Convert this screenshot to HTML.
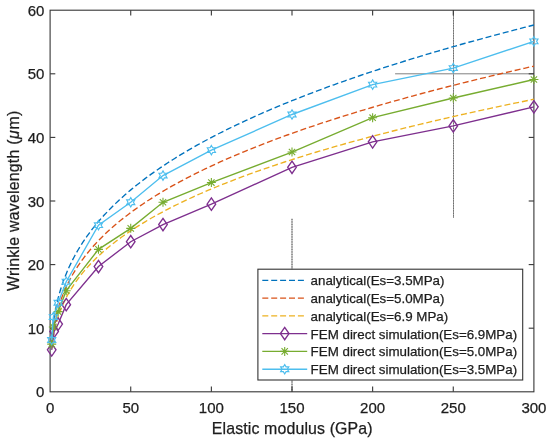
<!DOCTYPE html>
<html><head><meta charset="utf-8"><title>plot</title><style>html,body{margin:0;padding:0;background:#fff}</style></head><body>
<svg width="550" height="442" viewBox="0 0 550 442" style="display:block;font-family:'Liberation Sans',sans-serif">
<rect width="550" height="442" fill="#fff"/>
<style>text{stroke:#1c1c1c;stroke-width:0.25px;paint-order:stroke}</style>
<g fill="none" stroke-width="1">
<line x1="453.5" y1="10.2" x2="453.5" y2="218" stroke="#a4a4a4"/>
<line x1="453.5" y1="10.2" x2="453.5" y2="218" stroke="#6c6c6c" stroke-dasharray="1.3,1.2"/>
<line x1="395.1" y1="73.8" x2="533.9" y2="73.8" stroke="#808080"/>
<line x1="292.0" y1="218.8" x2="292.0" y2="391.8" stroke="#a8a8a8"/>
<line x1="292.0" y1="218.8" x2="292.0" y2="391.8" stroke="#606060" stroke-dasharray="1.3,1.2"/>
</g>
<g stroke="#363636" stroke-width="1.1" fill="none">
<rect x="50.1" y="10.2" width="483.79999999999995" height="381.6"/>
<line x1="130.73" y1="391.8" x2="130.73" y2="386.6"/>
<line x1="130.73" y1="10.2" x2="130.73" y2="15.399999999999999"/>
<line x1="211.37" y1="391.8" x2="211.37" y2="386.6"/>
<line x1="211.37" y1="10.2" x2="211.37" y2="15.399999999999999"/>
<line x1="292.00" y1="391.8" x2="292.00" y2="386.6"/>
<line x1="292.00" y1="10.2" x2="292.00" y2="15.399999999999999"/>
<line x1="372.63" y1="391.8" x2="372.63" y2="386.6"/>
<line x1="372.63" y1="10.2" x2="372.63" y2="15.399999999999999"/>
<line x1="453.27" y1="391.8" x2="453.27" y2="386.6"/>
<line x1="453.27" y1="10.2" x2="453.27" y2="15.399999999999999"/>
<line x1="50.1" y1="328.20" x2="55.300000000000004" y2="328.20"/>
<line x1="533.9" y1="328.20" x2="528.6999999999999" y2="328.20"/>
<line x1="50.1" y1="264.60" x2="55.300000000000004" y2="264.60"/>
<line x1="533.9" y1="264.60" x2="528.6999999999999" y2="264.60"/>
<line x1="50.1" y1="201.00" x2="55.300000000000004" y2="201.00"/>
<line x1="533.9" y1="201.00" x2="528.6999999999999" y2="201.00"/>
<line x1="50.1" y1="137.40" x2="55.300000000000004" y2="137.40"/>
<line x1="533.9" y1="137.40" x2="528.6999999999999" y2="137.40"/>
<line x1="50.1" y1="73.80" x2="55.300000000000004" y2="73.80"/>
<line x1="533.9" y1="73.80" x2="528.6999999999999" y2="73.80"/>
</g>
<g fill="#1c1c1c" font-size="15">
<text x="50.10" y="412.7" text-anchor="middle">0</text>
<text x="130.73" y="412.7" text-anchor="middle">50</text>
<text x="211.37" y="412.7" text-anchor="middle">100</text>
<text x="292.00" y="412.7" text-anchor="middle">150</text>
<text x="372.63" y="412.7" text-anchor="middle">200</text>
<text x="453.27" y="412.7" text-anchor="middle">250</text>
<text x="533.90" y="412.7" text-anchor="middle">300</text>
<text x="44.4" y="397.30" text-anchor="end">0</text>
<text x="44.4" y="333.70" text-anchor="end">10</text>
<text x="44.4" y="270.10" text-anchor="end">20</text>
<text x="44.4" y="206.50" text-anchor="end">30</text>
<text x="44.4" y="142.90" text-anchor="end">40</text>
<text x="44.4" y="79.30" text-anchor="end">50</text>
<text x="44.4" y="15.70" text-anchor="end">60</text>
</g>
<text x="292.2" y="434.1" text-anchor="middle" font-size="15.9" textLength="160.8" lengthAdjust="spacing" fill="#1c1c1c">Elastic modulus (GPa)</text>
<text transform="translate(19.2,290.9) rotate(-90)" font-size="15.9" textLength="180.2" lengthAdjust="spacing" fill="#1c1c1c">Wrinkle wavelength (<tspan font-style="italic" dx="0.3">μ</tspan><tspan dx="0.6">m)</tspan></text>
<path d="M51.71,337.01 L51.72,336.87 L51.76,336.47 L51.82,335.81 L51.91,334.91 L52.01,333.79 L52.15,332.48 L52.30,331.00 L52.48,329.38 L52.69,327.64 L52.92,325.80 L53.17,323.88 L53.45,321.90 L53.75,319.86 L54.08,317.78 L54.42,315.68 L54.80,313.54 L55.20,311.39 L55.62,309.23 L56.06,307.07 L56.53,304.90 L57.03,302.73 L57.55,300.56 L58.09,298.40 L58.66,296.24 L59.25,294.09 L59.86,291.95 L60.50,289.81 L61.16,287.69 L61.85,285.58 L62.56,283.48 L63.30,281.39 L64.06,279.31 L64.84,277.24 L65.65,275.19 L66.48,273.14 L67.34,271.11 L68.22,269.09 L69.12,267.08 L70.05,265.09 L71.00,263.10 L71.98,261.13 L72.98,259.16 L74.00,257.21 L75.05,255.27 L76.12,253.34 L77.22,251.42 L78.34,249.52 L79.49,247.62 L80.66,245.73 L81.85,243.85 L83.07,241.99 L84.31,240.13 L85.57,238.28 L86.86,236.44 L88.18,234.61 L89.52,232.79 L90.88,230.98 L92.26,229.18 L93.68,227.39 L95.11,225.60 L96.57,223.82 L98.05,222.06 L99.56,220.30 L101.09,218.55 L102.64,216.80 L104.22,215.07 L105.83,213.34 L107.45,211.62 L109.11,209.90 L110.78,208.20 L112.48,206.50 L114.20,204.81 L115.95,203.12 L117.72,201.45 L119.52,199.78 L121.34,198.11 L123.18,196.45 L125.05,194.80 L126.95,193.16 L128.86,191.52 L130.80,189.89 L132.77,188.26 L134.76,186.64 L136.77,185.03 L138.81,183.42 L140.87,181.82 L142.95,180.23 L145.06,178.64 L147.20,177.05 L149.36,175.47 L151.54,173.90 L153.74,172.33 L155.97,170.77 L158.23,169.21 L160.51,167.66 L162.81,166.11 L165.14,164.57 L167.49,163.03 L169.86,161.50 L172.26,159.97 L174.68,158.45 L177.13,156.93 L179.60,155.42 L182.10,153.91 L184.62,152.40 L187.16,150.90 L189.73,149.41 L192.32,147.92 L194.93,146.43 L197.57,144.95 L200.24,143.47 L202.93,142.00 L205.64,140.53 L208.38,139.07 L211.14,137.60 L213.92,136.15 L216.73,134.69 L219.56,133.25 L222.42,131.80 L225.30,130.36 L228.21,128.92 L231.13,127.49 L234.09,126.06 L237.07,124.63 L240.07,123.21 L243.09,121.79 L246.14,120.38 L249.22,118.97 L252.31,117.56 L255.44,116.16 L258.58,114.75 L261.75,113.36 L264.95,111.96 L268.17,110.57 L271.41,109.19 L274.68,107.80 L277.97,106.42 L281.28,105.04 L284.62,103.67 L287.98,102.30 L291.37,100.93 L294.78,99.57 L298.22,98.21 L301.68,96.85 L305.16,95.49 L308.67,94.14 L312.20,92.79 L315.76,91.44 L319.34,90.10 L322.94,88.76 L326.57,87.42 L330.22,86.09 L333.90,84.76 L337.60,83.43 L341.33,82.10 L345.08,80.78 L348.85,79.46 L352.65,78.14 L356.47,76.83 L360.31,75.51 L364.18,74.20 L368.08,72.90 L371.99,71.59 L375.94,70.29 L379.90,68.99 L383.89,67.69 L387.91,66.40 L391.94,65.11 L396.01,63.82 L400.09,62.53 L404.20,61.25 L408.34,59.97 L412.50,58.69 L416.68,57.41 L420.89,56.14 L425.12,54.87 L429.37,53.60 L433.65,52.33 L437.96,51.06 L442.28,49.80 L446.64,48.54 L451.01,47.28 L455.41,46.03 L459.84,44.77 L464.28,43.52 L468.76,42.27 L473.25,41.03 L477.77,39.78 L482.32,38.54 L486.89,37.30 L491.48,36.06 L496.10,34.83 L500.74,33.59 L505.40,32.36 L510.09,31.13 L514.81,29.90 L519.54,28.68 L524.30,27.45 L529.09,26.23 L533.90,25.01" fill="none" stroke="#0072BD" stroke-width="1.35" stroke-dasharray="6,2.9"/>
<path d="M51.71,343.15 L51.72,343.03 L51.76,342.67 L51.82,342.08 L51.91,341.28 L52.01,340.29 L52.15,339.13 L52.30,337.82 L52.48,336.38 L52.69,334.83 L52.92,333.20 L53.17,331.50 L53.45,329.74 L53.75,327.93 L54.08,326.08 L54.42,324.21 L54.80,322.32 L55.20,320.41 L55.62,318.49 L56.06,316.57 L56.53,314.64 L57.03,312.71 L57.55,310.79 L58.09,308.87 L58.66,306.95 L59.25,305.04 L59.86,303.14 L60.50,301.25 L61.16,299.36 L61.85,297.49 L62.56,295.62 L63.30,293.76 L64.06,291.92 L64.84,290.08 L65.65,288.26 L66.48,286.44 L67.34,284.64 L68.22,282.85 L69.12,281.06 L70.05,279.29 L71.00,277.53 L71.98,275.77 L72.98,274.03 L74.00,272.30 L75.05,270.58 L76.12,268.86 L77.22,267.16 L78.34,265.47 L79.49,263.78 L80.66,262.10 L81.85,260.44 L83.07,258.78 L84.31,257.13 L85.57,255.49 L86.86,253.86 L88.18,252.23 L89.52,250.62 L90.88,249.01 L92.26,247.41 L93.68,245.82 L95.11,244.23 L96.57,242.65 L98.05,241.08 L99.56,239.52 L101.09,237.97 L102.64,236.42 L104.22,234.88 L105.83,233.34 L107.45,231.81 L109.11,230.29 L110.78,228.78 L112.48,227.27 L114.20,225.77 L115.95,224.27 L117.72,222.78 L119.52,221.30 L121.34,219.82 L123.18,218.35 L125.05,216.89 L126.95,215.43 L128.86,213.97 L130.80,212.52 L132.77,211.08 L134.76,209.64 L136.77,208.21 L138.81,206.78 L140.87,205.36 L142.95,203.94 L145.06,202.53 L147.20,201.12 L149.36,199.72 L151.54,198.32 L153.74,196.93 L155.97,195.54 L158.23,194.16 L160.51,192.78 L162.81,191.41 L165.14,190.04 L167.49,188.67 L169.86,187.31 L172.26,185.96 L174.68,184.61 L177.13,183.26 L179.60,181.91 L182.10,180.57 L184.62,179.24 L187.16,177.91 L189.73,176.58 L192.32,175.26 L194.93,173.94 L197.57,172.62 L200.24,171.31 L202.93,170.00 L205.64,168.70 L208.38,167.40 L211.14,166.10 L213.92,164.81 L216.73,163.52 L219.56,162.23 L222.42,160.95 L225.30,159.67 L228.21,158.39 L231.13,157.12 L234.09,155.85 L237.07,154.58 L240.07,153.32 L243.09,152.06 L246.14,150.80 L249.22,149.55 L252.31,148.30 L255.44,147.05 L258.58,145.81 L261.75,144.57 L264.95,143.33 L268.17,142.10 L271.41,140.87 L274.68,139.64 L277.97,138.41 L281.28,137.19 L284.62,135.97 L287.98,134.75 L291.37,133.54 L294.78,132.33 L298.22,131.12 L301.68,129.91 L305.16,128.71 L308.67,127.51 L312.20,126.31 L315.76,125.11 L319.34,123.92 L322.94,122.73 L326.57,121.54 L330.22,120.36 L333.90,119.18 L337.60,118.00 L341.33,116.82 L345.08,115.64 L348.85,114.47 L352.65,113.30 L356.47,112.13 L360.31,110.97 L364.18,109.81 L368.08,108.64 L371.99,107.49 L375.94,106.33 L379.90,105.18 L383.89,104.03 L387.91,102.88 L391.94,101.73 L396.01,100.59 L400.09,99.44 L404.20,98.30 L408.34,97.17 L412.50,96.03 L416.68,94.90 L420.89,93.76 L425.12,92.63 L429.37,91.51 L433.65,90.38 L437.96,89.26 L442.28,88.14 L446.64,87.02 L451.01,85.90 L455.41,84.79 L459.84,83.67 L464.28,82.56 L468.76,81.45 L473.25,80.35 L477.77,79.24 L482.32,78.14 L486.89,77.04 L491.48,75.94 L496.10,74.84 L500.74,73.74 L505.40,72.65 L510.09,71.56 L514.81,70.47 L519.54,69.38 L524.30,68.29 L529.09,67.21 L533.90,66.13" fill="none" stroke="#D95319" stroke-width="1.35" stroke-dasharray="6,2.9"/>
<path d="M51.71,348.10 L51.72,347.99 L51.76,347.67 L51.82,347.14 L51.91,346.43 L52.01,345.54 L52.15,344.49 L52.30,343.31 L52.48,342.02 L52.69,340.63 L52.92,339.17 L53.17,337.64 L53.45,336.05 L53.75,334.43 L54.08,332.77 L54.42,331.09 L54.80,329.39 L55.20,327.68 L55.62,325.95 L56.06,324.22 L56.53,322.49 L57.03,320.76 L57.55,319.03 L58.09,317.31 L58.66,315.59 L59.25,313.87 L59.86,312.16 L60.50,310.46 L61.16,308.77 L61.85,307.09 L62.56,305.41 L63.30,303.74 L64.06,302.09 L64.84,300.44 L65.65,298.80 L66.48,297.17 L67.34,295.55 L68.22,293.94 L69.12,292.34 L70.05,290.74 L71.00,289.16 L71.98,287.59 L72.98,286.02 L74.00,284.46 L75.05,282.92 L76.12,281.38 L77.22,279.85 L78.34,278.33 L79.49,276.81 L80.66,275.31 L81.85,273.81 L83.07,272.32 L84.31,270.84 L85.57,269.37 L86.86,267.90 L88.18,266.44 L89.52,264.99 L90.88,263.54 L92.26,262.11 L93.68,260.68 L95.11,259.25 L96.57,257.84 L98.05,256.43 L99.56,255.02 L101.09,253.63 L102.64,252.24 L104.22,250.85 L105.83,249.47 L107.45,248.10 L109.11,246.73 L110.78,245.37 L112.48,244.02 L114.20,242.67 L115.95,241.33 L117.72,239.99 L119.52,238.66 L121.34,237.33 L123.18,236.01 L125.05,234.69 L126.95,233.38 L128.86,232.07 L130.80,230.77 L132.77,229.48 L134.76,228.19 L136.77,226.90 L138.81,225.62 L140.87,224.34 L142.95,223.07 L145.06,221.80 L147.20,220.53 L149.36,219.28 L151.54,218.02 L153.74,216.77 L155.97,215.52 L158.23,214.28 L160.51,213.04 L162.81,211.81 L165.14,210.58 L167.49,209.35 L169.86,208.13 L172.26,206.91 L174.68,205.70 L177.13,204.49 L179.60,203.28 L182.10,202.08 L184.62,200.88 L187.16,199.68 L189.73,198.49 L192.32,197.30 L194.93,196.12 L197.57,194.93 L200.24,193.75 L202.93,192.58 L205.64,191.41 L208.38,190.24 L211.14,189.07 L213.92,187.91 L216.73,186.75 L219.56,185.60 L222.42,184.45 L225.30,183.30 L228.21,182.15 L231.13,181.01 L234.09,179.87 L237.07,178.73 L240.07,177.60 L243.09,176.47 L246.14,175.34 L249.22,174.21 L252.31,173.09 L255.44,171.97 L258.58,170.85 L261.75,169.74 L264.95,168.63 L268.17,167.52 L271.41,166.41 L274.68,165.31 L277.97,164.21 L281.28,163.11 L284.62,162.01 L287.98,160.92 L291.37,159.83 L294.78,158.74 L298.22,157.65 L301.68,156.57 L305.16,155.49 L308.67,154.41 L312.20,153.34 L315.76,152.26 L319.34,151.19 L322.94,150.12 L326.57,149.05 L330.22,147.99 L333.90,146.93 L337.60,145.87 L341.33,144.81 L345.08,143.76 L348.85,142.70 L352.65,141.65 L356.47,140.60 L360.31,139.56 L364.18,138.51 L368.08,137.47 L371.99,136.43 L375.94,135.39 L379.90,134.35 L383.89,133.32 L387.91,132.29 L391.94,131.26 L396.01,130.23 L400.09,129.20 L404.20,128.18 L408.34,127.16 L412.50,126.14 L416.68,125.12 L420.89,124.10 L425.12,123.09 L429.37,122.08 L433.65,121.07 L437.96,120.06 L442.28,119.05 L446.64,118.05 L451.01,117.04 L455.41,116.04 L459.84,115.04 L464.28,114.04 L468.76,113.05 L473.25,112.05 L477.77,111.06 L482.32,110.07 L486.89,109.08 L491.48,108.09 L496.10,107.11 L500.74,106.12 L505.40,105.14 L510.09,104.16 L514.81,103.18 L519.54,102.20 L524.30,101.23 L529.09,100.25 L533.90,99.28" fill="none" stroke="#EDB120" stroke-width="1.35" stroke-dasharray="6,2.9"/>
<path d="M51.71,349.82 L54.13,331.38 L58.16,324.07 L66.23,304.67 L98.48,266.51 L130.73,241.70 L162.99,224.53 L211.37,204.18 L292.00,167.29 L372.63,141.85 L453.27,125.95 L533.90,106.87" fill="none" stroke="#7E2F8E" stroke-width="1.35"/>
<path d="M51.71,343.62 L56.01,349.82 L51.71,356.02 L47.41,349.82 Z" fill="none" stroke="#7E2F8E" stroke-width="1.35"/>
<path d="M54.13,325.18 L58.43,331.38 L54.13,337.58 L49.83,331.38 Z" fill="none" stroke="#7E2F8E" stroke-width="1.35"/>
<path d="M58.16,317.87 L62.46,324.07 L58.16,330.27 L53.86,324.07 Z" fill="none" stroke="#7E2F8E" stroke-width="1.35"/>
<path d="M66.23,298.47 L70.53,304.67 L66.23,310.87 L61.93,304.67 Z" fill="none" stroke="#7E2F8E" stroke-width="1.35"/>
<path d="M98.48,260.31 L102.78,266.51 L98.48,272.71 L94.18,266.51 Z" fill="none" stroke="#7E2F8E" stroke-width="1.35"/>
<path d="M130.73,235.50 L135.03,241.70 L130.73,247.90 L126.43,241.70 Z" fill="none" stroke="#7E2F8E" stroke-width="1.35"/>
<path d="M162.99,218.33 L167.29,224.53 L162.99,230.73 L158.69,224.53 Z" fill="none" stroke="#7E2F8E" stroke-width="1.35"/>
<path d="M211.37,197.98 L215.67,204.18 L211.37,210.38 L207.07,204.18 Z" fill="none" stroke="#7E2F8E" stroke-width="1.35"/>
<path d="M292.00,161.09 L296.30,167.29 L292.00,173.49 L287.70,167.29 Z" fill="none" stroke="#7E2F8E" stroke-width="1.35"/>
<path d="M372.63,135.65 L376.93,141.85 L372.63,148.05 L368.33,141.85 Z" fill="none" stroke="#7E2F8E" stroke-width="1.35"/>
<path d="M453.27,119.75 L457.57,125.95 L453.27,132.15 L448.97,125.95 Z" fill="none" stroke="#7E2F8E" stroke-width="1.35"/>
<path d="M533.90,100.67 L538.20,106.87 L533.90,113.07 L529.60,106.87 Z" fill="none" stroke="#7E2F8E" stroke-width="1.35"/>
<path d="M51.71,344.10 L53.33,326.93 L58.16,311.66 L66.23,290.68 L98.48,249.34 L130.73,228.35 L162.99,202.27 L211.37,182.56 L292.00,152.03 L372.63,117.68 L453.27,97.97 L533.90,79.52" fill="none" stroke="#77AC30" stroke-width="1.35"/>
<path d="M47.21,344.10 H56.21 M51.71,339.60 V348.60 M48.53,340.92 L54.89,347.28 M48.53,347.28 L54.89,340.92" fill="none" stroke="#77AC30" stroke-width="1.1"/>
<path d="M48.83,326.93 H57.83 M53.33,322.43 V331.43 M50.14,323.75 L56.51,330.11 M50.14,330.11 L56.51,323.75" fill="none" stroke="#77AC30" stroke-width="1.1"/>
<path d="M53.66,311.66 H62.66 M58.16,307.16 V316.16 M54.98,308.48 L61.35,314.85 M54.98,314.85 L61.35,308.48" fill="none" stroke="#77AC30" stroke-width="1.1"/>
<path d="M61.73,290.68 H70.73 M66.23,286.18 V295.18 M63.04,287.49 L69.41,293.86 M63.04,293.86 L69.41,287.49" fill="none" stroke="#77AC30" stroke-width="1.1"/>
<path d="M93.98,249.34 H102.98 M98.48,244.84 V253.84 M95.30,246.15 L101.66,252.52 M95.30,252.52 L101.66,246.15" fill="none" stroke="#77AC30" stroke-width="1.1"/>
<path d="M126.23,228.35 H135.23 M130.73,223.85 V232.85 M127.55,225.17 L133.92,231.53 M127.55,231.53 L133.92,225.17" fill="none" stroke="#77AC30" stroke-width="1.1"/>
<path d="M158.49,202.27 H167.49 M162.99,197.77 V206.77 M159.80,199.09 L166.17,205.45 M159.80,205.45 L166.17,199.09" fill="none" stroke="#77AC30" stroke-width="1.1"/>
<path d="M206.87,182.56 H215.87 M211.37,178.06 V187.06 M208.18,179.37 L214.55,185.74 M208.18,185.74 L214.55,179.37" fill="none" stroke="#77AC30" stroke-width="1.1"/>
<path d="M287.50,152.03 H296.50 M292.00,147.53 V156.53 M288.82,148.85 L295.18,155.21 M288.82,155.21 L295.18,148.85" fill="none" stroke="#77AC30" stroke-width="1.1"/>
<path d="M368.13,117.68 H377.13 M372.63,113.18 V122.18 M369.45,114.50 L375.82,120.87 M369.45,120.87 L375.82,114.50" fill="none" stroke="#77AC30" stroke-width="1.1"/>
<path d="M448.77,97.97 H457.77 M453.27,93.47 V102.47 M450.08,94.79 L456.45,101.15 M450.08,101.15 L456.45,94.79" fill="none" stroke="#77AC30" stroke-width="1.1"/>
<path d="M529.40,79.52 H538.40 M533.90,75.02 V84.02 M530.72,76.34 L537.08,82.71 M530.72,82.71 L537.08,76.34" fill="none" stroke="#77AC30" stroke-width="1.1"/>
<path d="M51.71,339.97 L53.33,317.07 L58.16,302.76 L66.23,281.77 L98.48,225.17 L130.73,202.27 L162.99,175.56 L211.37,150.12 L292.00,114.50 L372.63,84.61 L453.27,68.08 L533.90,41.36" fill="none" stroke="#4DBEEE" stroke-width="1.35"/>
<path d="M51.71,335.27 L53.07,337.62 L55.78,337.62 L54.43,339.97 L55.78,342.32 L53.07,342.32 L51.71,344.67 L50.36,342.32 L47.64,342.32 L49.00,339.97 L47.64,337.62 L50.36,337.62 Z" fill="none" stroke="#4DBEEE" stroke-width="1.15" stroke-linejoin="miter"/>
<path d="M53.33,312.37 L54.68,314.72 L57.40,314.72 L56.04,317.07 L57.40,319.42 L54.68,319.42 L53.33,321.77 L51.97,319.42 L49.26,319.42 L50.61,317.07 L49.26,314.72 L51.97,314.72 Z" fill="none" stroke="#4DBEEE" stroke-width="1.15" stroke-linejoin="miter"/>
<path d="M58.16,298.06 L59.52,300.41 L62.23,300.41 L60.88,302.76 L62.23,305.11 L59.52,305.11 L58.16,307.46 L56.81,305.11 L54.09,305.11 L55.45,302.76 L54.09,300.41 L56.81,300.41 Z" fill="none" stroke="#4DBEEE" stroke-width="1.15" stroke-linejoin="miter"/>
<path d="M66.23,277.07 L67.58,279.42 L70.30,279.42 L68.94,281.77 L70.30,284.12 L67.58,284.12 L66.23,286.47 L64.87,284.12 L62.16,284.12 L63.51,281.77 L62.16,279.42 L64.87,279.42 Z" fill="none" stroke="#4DBEEE" stroke-width="1.15" stroke-linejoin="miter"/>
<path d="M98.48,220.47 L99.84,222.82 L102.55,222.82 L101.19,225.17 L102.55,227.52 L99.84,227.52 L98.48,229.87 L97.12,227.52 L94.41,227.52 L95.77,225.17 L94.41,222.82 L97.12,222.82 Z" fill="none" stroke="#4DBEEE" stroke-width="1.15" stroke-linejoin="miter"/>
<path d="M130.73,197.57 L132.09,199.92 L134.80,199.92 L133.45,202.27 L134.80,204.62 L132.09,204.62 L130.73,206.97 L129.38,204.62 L126.66,204.62 L128.02,202.27 L126.66,199.92 L129.38,199.92 Z" fill="none" stroke="#4DBEEE" stroke-width="1.15" stroke-linejoin="miter"/>
<path d="M162.99,170.86 L164.34,173.21 L167.06,173.21 L165.70,175.56 L167.06,177.91 L164.34,177.91 L162.99,180.26 L161.63,177.91 L158.92,177.91 L160.27,175.56 L158.92,173.21 L161.63,173.21 Z" fill="none" stroke="#4DBEEE" stroke-width="1.15" stroke-linejoin="miter"/>
<path d="M211.37,145.42 L212.72,147.77 L215.44,147.77 L214.08,150.12 L215.44,152.47 L212.72,152.47 L211.37,154.82 L210.01,152.47 L207.30,152.47 L208.65,150.12 L207.30,147.77 L210.01,147.77 Z" fill="none" stroke="#4DBEEE" stroke-width="1.15" stroke-linejoin="miter"/>
<path d="M292.00,109.80 L293.36,112.15 L296.07,112.15 L294.71,114.50 L296.07,116.85 L293.36,116.85 L292.00,119.20 L290.64,116.85 L287.93,116.85 L289.29,114.50 L287.93,112.15 L290.64,112.15 Z" fill="none" stroke="#4DBEEE" stroke-width="1.15" stroke-linejoin="miter"/>
<path d="M372.63,79.91 L373.99,82.26 L376.70,82.26 L375.35,84.61 L376.70,86.96 L373.99,86.96 L372.63,89.31 L371.28,86.96 L368.56,86.96 L369.92,84.61 L368.56,82.26 L371.28,82.26 Z" fill="none" stroke="#4DBEEE" stroke-width="1.15" stroke-linejoin="miter"/>
<path d="M453.27,63.38 L454.62,65.73 L457.34,65.73 L455.98,68.08 L457.34,70.43 L454.62,70.43 L453.27,72.78 L451.91,70.43 L449.20,70.43 L450.55,68.08 L449.20,65.73 L451.91,65.73 Z" fill="none" stroke="#4DBEEE" stroke-width="1.15" stroke-linejoin="miter"/>
<path d="M533.90,36.66 L535.26,39.01 L537.97,39.01 L536.61,41.36 L537.97,43.71 L535.26,43.71 L533.90,46.06 L532.54,43.71 L529.83,43.71 L531.19,41.36 L529.83,39.01 L532.54,39.01 Z" fill="none" stroke="#4DBEEE" stroke-width="1.15" stroke-linejoin="miter"/>
<rect x="257.9" y="269.2" width="264.80000000000007" height="110.80000000000001" fill="#fff" stroke="#333" stroke-width="1.1"/>
<line x1="262.3" y1="280.35" x2="306.5" y2="280.35" stroke="#0072BD" stroke-width="1.35" stroke-dasharray="6,2.9"/>
<text x="310.6" y="285.35" font-size="13.35" fill="#1c1c1c">analytical(Es=3.5MPa)</text>
<line x1="262.3" y1="298.1" x2="306.5" y2="298.1" stroke="#D95319" stroke-width="1.35" stroke-dasharray="6,2.9"/>
<text x="310.6" y="303.10" font-size="13.35" fill="#1c1c1c">analytical(Es=5.0MPa)</text>
<line x1="262.3" y1="315.85" x2="306.5" y2="315.85" stroke="#EDB120" stroke-width="1.35" stroke-dasharray="6,2.9"/>
<text x="310.6" y="320.85" font-size="13.35" fill="#1c1c1c">analytical(Es=6.9 MPa)</text>
<line x1="262.3" y1="333.55" x2="307.2" y2="333.55" stroke="#7E2F8E" stroke-width="1.35"/>
<path d="M284.70,327.35 L289.00,333.55 L284.70,339.75 L280.40,333.55 Z" fill="none" stroke="#7E2F8E" stroke-width="1.35"/>
<text x="310.6" y="338.55" font-size="13.35" fill="#1c1c1c">FEM direct simulation(Es=6.9MPa)</text>
<line x1="262.3" y1="351.4" x2="307.2" y2="351.4" stroke="#77AC30" stroke-width="1.35"/>
<path d="M280.20,351.40 H289.20 M284.70,346.90 V355.90 M281.52,348.22 L287.88,354.58 M281.52,354.58 L287.88,348.22" fill="none" stroke="#77AC30" stroke-width="1.1"/>
<text x="310.6" y="356.40" font-size="13.35" fill="#1c1c1c">FEM direct simulation(Es=5.0MPa)</text>
<line x1="262.3" y1="369.25" x2="307.2" y2="369.25" stroke="#4DBEEE" stroke-width="1.35"/>
<path d="M284.70,364.55 L286.06,366.90 L288.77,366.90 L287.41,369.25 L288.77,371.60 L286.06,371.60 L284.70,373.95 L283.34,371.60 L280.63,371.60 L281.99,369.25 L280.63,366.90 L283.34,366.90 Z" fill="none" stroke="#4DBEEE" stroke-width="1.15" stroke-linejoin="miter"/>
<text x="310.6" y="374.25" font-size="13.35" fill="#1c1c1c">FEM direct simulation(Es=3.5MPa)</text>
</svg>
</body></html>
